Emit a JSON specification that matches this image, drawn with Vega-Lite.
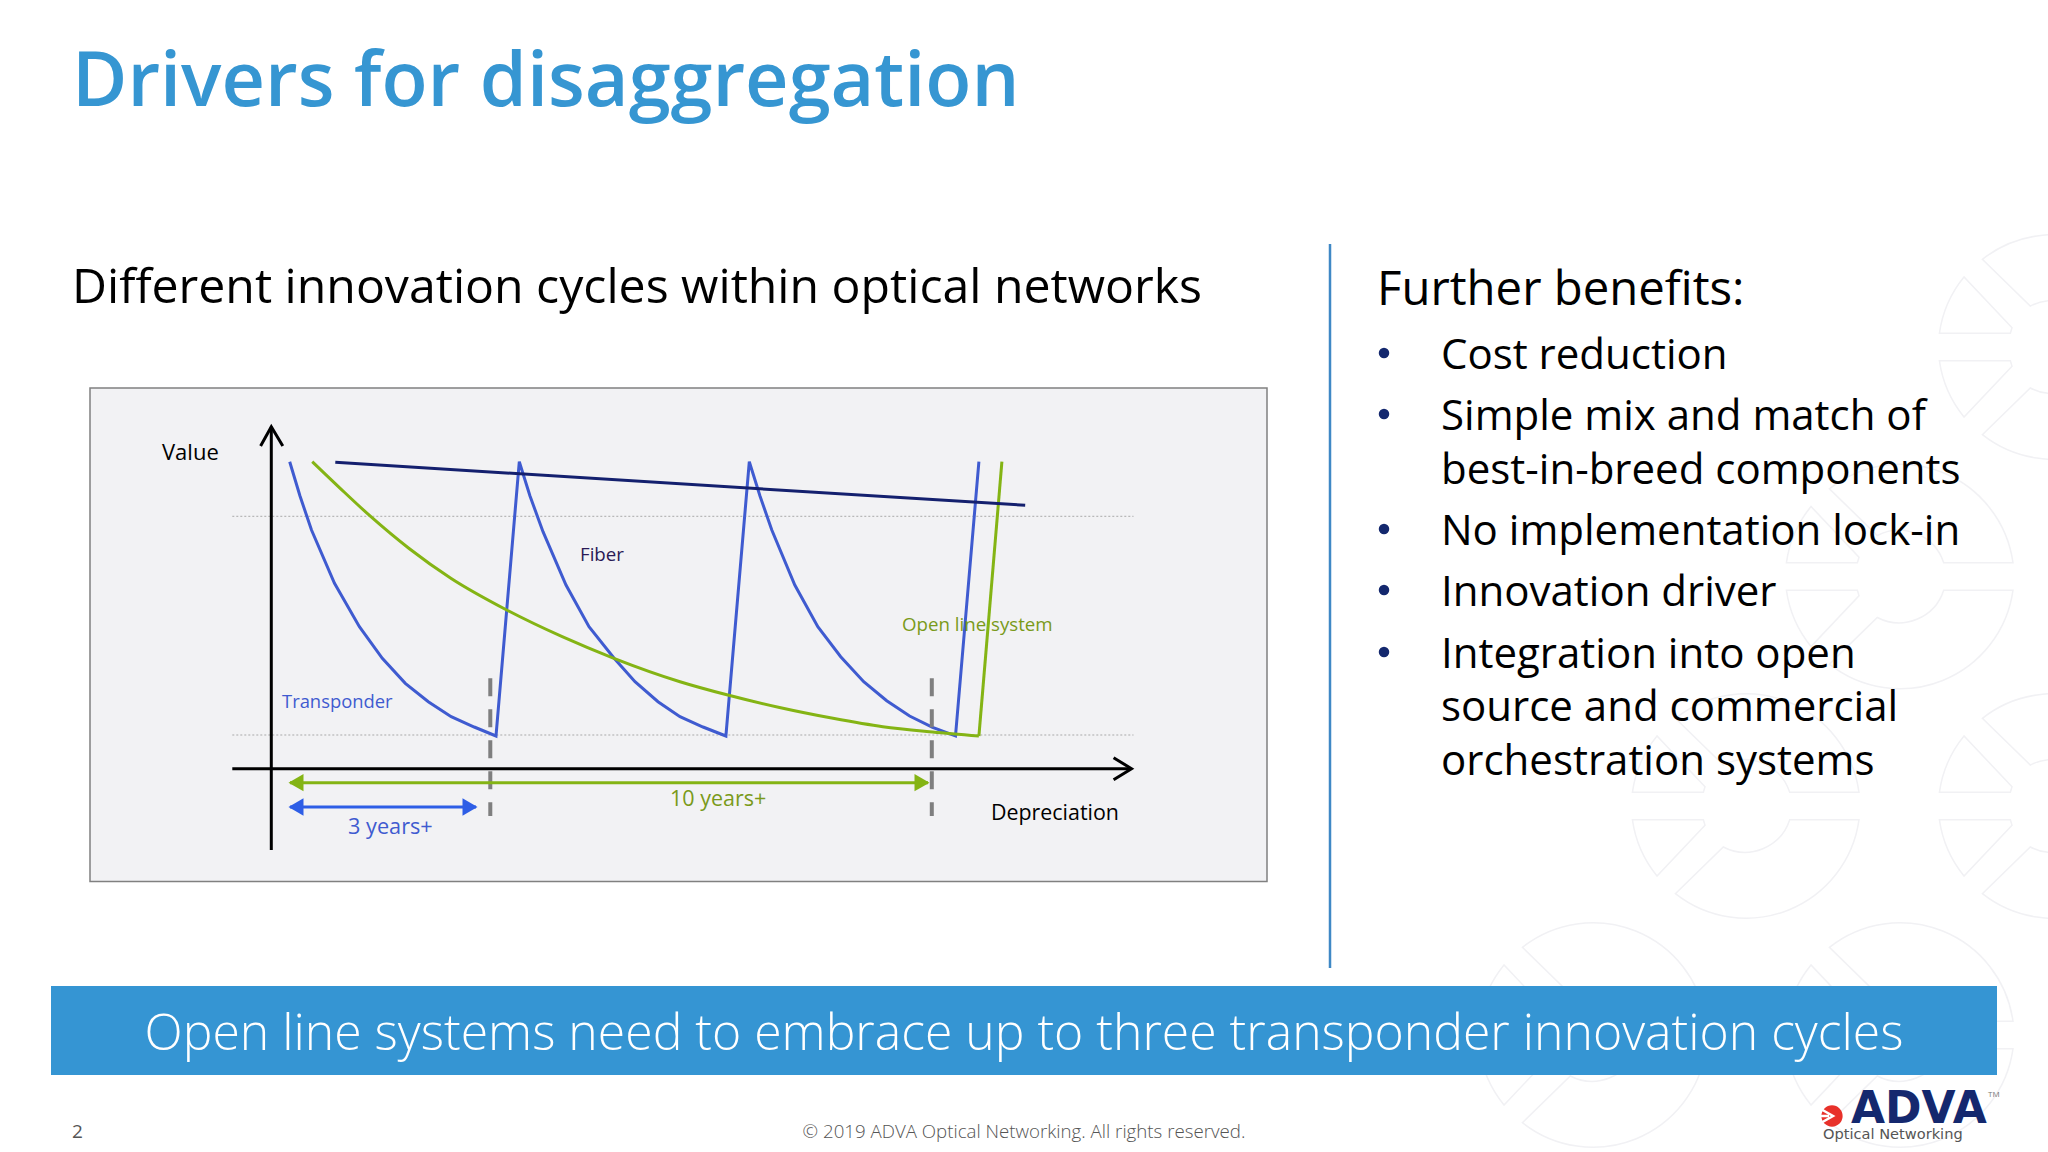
{
  "$schema": "https://vega.github.io/schema/vega-lite/v6.json",
  "autosize": "none",
  "width": 2048,
  "height": 1152,
  "padding": 0,
  "background": "#ffffff",
  "config": {"view": {"stroke": null}, "text": {"font": "Open Sans", "align": "left", "baseline": "alphabetic"}},
  "encoding": {
    "x": {"field": "x", "type": "quantitative", "axis": null, "scale": {"domain": [0, 2048], "nice": false, "zero": false}},
    "y": {"field": "y", "type": "quantitative", "axis": null, "scale": {"domain": [0, 1152], "reverse": true, "nice": false, "zero": false}}
  },
  "datasets": {
    "transponder": [
      {"i": 1, "x": 289.7, "y": 461.7},
      {"i": 2, "x": 300, "y": 496},
      {"i": 3, "x": 311.5, "y": 530},
      {"i": 4, "x": 334.5, "y": 583.3},
      {"i": 5, "x": 359.4, "y": 626.7},
      {"i": 6, "x": 382.3, "y": 658.3},
      {"i": 7, "x": 405.3, "y": 683.3},
      {"i": 8, "x": 428.3, "y": 701.7},
      {"i": 9, "x": 451.2, "y": 716.7},
      {"i": 10, "x": 474.2, "y": 727},
      {"i": 11, "x": 496, "y": 736},
      {"i": 12, "x": 519.3, "y": 461.7},
      {"i": 13, "x": 530, "y": 496},
      {"i": 14, "x": 543, "y": 531.7},
      {"i": 15, "x": 566, "y": 585},
      {"i": 16, "x": 589, "y": 626.7},
      {"i": 17, "x": 613.9, "y": 658},
      {"i": 18, "x": 635, "y": 681.7},
      {"i": 19, "x": 658, "y": 701.7},
      {"i": 20, "x": 680, "y": 716.7},
      {"i": 21, "x": 703, "y": 727},
      {"i": 22, "x": 725.9, "y": 736},
      {"i": 23, "x": 749.3, "y": 461.7},
      {"i": 24, "x": 760, "y": 496},
      {"i": 25, "x": 771.8, "y": 530},
      {"i": 26, "x": 794.8, "y": 585},
      {"i": 27, "x": 817.8, "y": 626.7},
      {"i": 28, "x": 840.7, "y": 656.7},
      {"i": 29, "x": 863.7, "y": 681.7},
      {"i": 30, "x": 886.7, "y": 700.7},
      {"i": 31, "x": 909.6, "y": 716},
      {"i": 32, "x": 932.6, "y": 727.3},
      {"i": 33, "x": 955.5, "y": 736},
      {"i": 34, "x": 978.9, "y": 461.7}
    ],
    "openLine": [
      {"x": 312.3, "y": 461.7},
      {"x": 340.2, "y": 488.3},
      {"x": 370.9, "y": 516.7},
      {"x": 409.1, "y": 548.5},
      {"x": 451.2, "y": 578.5},
      {"x": 506.7, "y": 610},
      {"x": 562.2, "y": 636.7},
      {"x": 613.9, "y": 658.3},
      {"x": 680, "y": 681.7},
      {"x": 727.8, "y": 695},
      {"x": 779.5, "y": 707.5},
      {"x": 833, "y": 718.3},
      {"x": 882.8, "y": 726.7},
      {"x": 932.6, "y": 732},
      {"x": 978.9, "y": 736}
    ]
  },
  "layer": [
    {
      "data": {"values": [
        {"x": 2053, "y": 347}, {"x": 1900, "y": 576.5}, {"x": 1746, "y": 806},
        {"x": 2053, "y": 806}, {"x": 1593, "y": 1035}, {"x": 1900, "y": 1035}
      ]},
      "mark": {
        "type": "point",
        "size": 4,
        "filled": false,
        "opacity": 1,
        "stroke": "#f1f1f4",
        "strokeWidth": 1.5,
        "shape": "M43.7,13.7L113,13.7A114,114 0 0 1 -70.6,87.7L-22.7,41A47,47 0 0 0 43.7,13.7ZM-113.6,13.7L-42.6,13.7L-41,19.3L-89,70A114,114 0 0 1 -113.6,13.7ZM43.7,-13.7L113,-13.7A114,114 0 0 0 -70.6,-87.7L-22.7,-41A47,47 0 0 1 43.7,-13.7ZM-113.6,-13.7L-42.6,-13.7L-41,-19.3L-89,-70A114,114 0 0 0 -113.6,-13.7Z"
      }
    },
    {
      "data": {"values": [{"x": 90, "x2": 1267, "y": 388, "y2": 881.6}]},
      "mark": {"type": "rect", "fill": "#f2f2f4", "stroke": "#808080", "strokeWidth": 1.5},
      "encoding": {"x2": {"field": "x2"}, "y2": {"field": "y2"}}
    },
    {
      "data": {"values": [{"x": 51, "x2": 1997, "y": 986, "y2": 1075}]},
      "mark": {"type": "rect", "fill": "#3595d3"},
      "encoding": {"x2": {"field": "x2"}, "y2": {"field": "y2"}}
    },
    {
      "data": {"values": [{"x": 1330, "y": 244}, {"x": 1330, "y": 968}]},
      "mark": {"type": "line", "stroke": "#3f88c5", "strokeWidth": 2.5}
    },
    {
      "data": {"values": [
        {"line": "high", "x": 232.3, "y": 516.3}, {"line": "high", "x": 1133.5, "y": 516.3},
        {"line": "low", "x": 232.3, "y": 735}, {"line": "low", "x": 1133.5, "y": 735}
      ]},
      "mark": {"type": "line", "stroke": "#a9a9a9", "strokeWidth": 1, "strokeDash": [2, 2]},
      "encoding": {"detail": {"field": "line"}}
    },
    {
      "data": {"values": [
        {"line": "xaxis", "x": 232.3, "y": 768.7}, {"line": "xaxis", "x": 1131, "y": 768.7},
        {"line": "xhead", "i": 1, "x": 1113.6, "y": 757.7}, {"line": "xhead", "i": 2, "x": 1131.5, "y": 768.7}, {"line": "xhead", "i": 3, "x": 1113.6, "y": 779.7},
        {"line": "yaxis", "x": 271.3, "y": 426.7}, {"line": "yaxis", "x": 271.3, "y": 850},
        {"line": "yhead", "i": 1, "x": 260.6, "y": 446}, {"line": "yhead", "i": 2, "x": 271.3, "y": 426.7}, {"line": "yhead", "i": 3, "x": 282.8, "y": 446}
      ]},
      "mark": {"type": "line", "stroke": "#000000", "strokeWidth": 3},
      "encoding": {"detail": {"field": "line"}, "order": {"field": "i"}}
    },
    {
      "data": {"name": "transponder"},
      "mark": {"type": "line", "stroke": "#3f5bd0", "strokeWidth": 3},
      "encoding": {"order": {"field": "i"}}
    },
    {
      "data": {"name": "openLine"},
      "mark": {"type": "line", "stroke": "#84b414", "strokeWidth": 3, "interpolate": "monotone"}
    },
    {
      "data": {"values": [{"x": 978.9, "y": 736}, {"x": 1001.9, "y": 461.7}]},
      "mark": {"type": "line", "stroke": "#84b414", "strokeWidth": 3}
    },
    {
      "data": {"values": [{"x": 335.3, "y": 462.3}, {"x": 1025.2, "y": 505.3}]},
      "mark": {"type": "line", "stroke": "#14206e", "strokeWidth": 3}
    },
    {
      "data": {"values": [
        {"line": "3 years", "x": 490.3, "y": 678.3}, {"line": "3 years", "x": 490.3, "y": 816},
        {"line": "10 years", "x": 931.8, "y": 678.3}, {"line": "10 years", "x": 931.8, "y": 816}
      ]},
      "mark": {"type": "line", "stroke": "#7f7f7f", "strokeWidth": 4, "strokeDash": [18, 13]},
      "encoding": {"detail": {"field": "line"}}
    },
    {
      "data": {"values": [{"x": 290, "y": 782.7}, {"x": 928, "y": 782.7}]},
      "mark": {"type": "line", "stroke": "#84b414", "strokeWidth": 3}
    },
    {
      "data": {"values": [{"x": 290, "y": 807}, {"x": 476, "y": 807}]},
      "mark": {"type": "line", "stroke": "#2e5ee6", "strokeWidth": 3}
    },
    {
      "data": {"values": [
        {"span": "10 years+", "dir": "left", "x": 296, "y": 782.7},
        {"span": "10 years+", "dir": "right", "x": 922, "y": 782.7},
        {"span": "3 years+", "dir": "left", "x": 296, "y": 807},
        {"span": "3 years+", "dir": "right", "x": 470, "y": 807}
      ]},
      "mark": {"type": "point", "filled": true, "opacity": 1, "size": 300},
      "encoding": {
        "shape": {"field": "dir", "legend": null, "scale": {"domain": ["left", "right"], "range": ["triangle-left", "triangle-right"]}},
        "fill": {"field": "span", "legend": null, "scale": {"domain": ["10 years+", "3 years+"], "range": ["#84b414", "#2e5ee6"]}}
      }
    },
    {
      "data": {"values": [{"label": "Value", "x": 162, "y": 460}]},
      "mark": {"type": "text", "fontSize": 22, "fill": "#000000"},
      "encoding": {"text": {"field": "label"}}
    },
    {
      "data": {"values": [{"label": "Depreciation", "x": 991, "y": 819.5}]},
      "mark": {"type": "text", "fontSize": 21.4, "fill": "#000000"},
      "encoding": {"text": {"field": "label"}}
    },
    {
      "data": {"values": [{"label": "Transponder", "x": 282, "y": 708}]},
      "mark": {"type": "text", "fontSize": 18.4, "fill": "#3f5bd0"},
      "encoding": {"text": {"field": "label"}}
    },
    {
      "data": {"values": [{"label": "3 years+", "x": 348, "y": 833.5}]},
      "mark": {"type": "text", "fontSize": 21.7, "fill": "#3f5bd0"},
      "encoding": {"text": {"field": "label"}}
    },
    {
      "data": {"values": [{"label": "Fiber", "x": 580, "y": 560.5}]},
      "mark": {"type": "text", "fontSize": 18.7, "fill": "#2a1a55"},
      "encoding": {"text": {"field": "label"}}
    },
    {
      "data": {"values": [{"label": "Open line system", "x": 902, "y": 631}]},
      "mark": {"type": "text", "fontSize": 18.7, "fill": "#7a9a1a"},
      "encoding": {"text": {"field": "label"}}
    },
    {
      "data": {"values": [{"label": "10 years+", "x": 670, "y": 806}]},
      "mark": {"type": "text", "fontSize": 21.5, "fill": "#7a9a1a"},
      "encoding": {"text": {"field": "label"}}
    },
    {
      "data": {"values": [{"label": "Drivers for disaggregation", "x": 72, "y": 106}]},
      "mark": {"type": "text", "fontSize": 75.6, "fontWeight": 600, "fill": "#3696d2"},
      "encoding": {"text": {"field": "label"}}
    },
    {
      "data": {"values": [{"label": "Different innovation cycles within optical networks", "x": 72, "y": 303}]},
      "mark": {"type": "text", "fontSize": 48.2, "fill": "#000000"},
      "encoding": {"text": {"field": "label"}}
    },
    {
      "data": {"values": [{"label": "Further benefits:", "x": 1377, "y": 305}]},
      "mark": {"type": "text", "fontSize": 47.3, "fill": "#000000"},
      "encoding": {"text": {"field": "label"}}
    },
    {
      "data": {"values": [
        {"x": 1384, "y": 353}, {"x": 1384, "y": 414}, {"x": 1384, "y": 529}, {"x": 1384, "y": 590}, {"x": 1384, "y": 652}
      ]},
      "mark": {"type": "circle", "size": 110, "fill": "#14286e", "opacity": 1}
    },
    {
      "data": {"values": [
        {"label": "Cost reduction", "x": 1441, "y": 369},
        {"label": "Simple mix and match of", "x": 1441, "y": 430},
        {"label": "best-in-breed components", "x": 1441, "y": 484},
        {"label": "No implementation lock-in", "x": 1441, "y": 545},
        {"label": "Innovation driver", "x": 1441, "y": 606},
        {"label": "Integration into open", "x": 1441, "y": 668},
        {"label": "source and commercial", "x": 1441, "y": 721},
        {"label": "orchestration systems", "x": 1441, "y": 775}
      ]},
      "mark": {"type": "text", "fontSize": 42, "fill": "#000000"},
      "encoding": {"text": {"field": "label"}}
    },
    {
      "data": {"values": [{"label": "Open line systems need to embrace up to three transponder innovation cycles", "x": 1024, "y": 1050}]},
      "mark": {"type": "text", "fontSize": 49.9, "fontWeight": 300, "align": "center", "fill": "#ffffff"},
      "encoding": {"text": {"field": "label"}}
    },
    {
      "data": {"values": [{"label": "2", "x": 72, "y": 1138}]},
      "mark": {"type": "text", "fontSize": 19, "fill": "#555555"},
      "encoding": {"text": {"field": "label"}}
    },
    {
      "data": {"values": [{"label": "© 2019 ADVA Optical Networking. All rights reserved.", "x": 1024, "y": 1138}]},
      "mark": {"type": "text", "fontSize": 18.7, "fontWeight": 300, "align": "center", "fill": "#555555"},
      "encoding": {"text": {"field": "label"}}
    },
    {
      "data": {"values": [{"x": 1832, "y": 1116}]},
      "mark": {"type": "circle", "size": 452, "fill": "#e8312a", "opacity": 1}
    },
    {
      "data": {"values": [{"x": 1832, "y": 1116}]},
      "mark": {"type": "point", "shape": "M-13,-8L1,0L-13,8M-13,0L-3,0", "size": 4, "filled": false, "stroke": "#ffffff", "strokeWidth": 2.5, "opacity": 1}
    },
    {
      "data": {"values": [{"label": "ADVA", "x": 1851, "y": 1123}]},
      "mark": {"type": "text", "font": "DejaVu Sans", "fontSize": 44, "fontWeight": "bold", "fill": "#14286e"},
      "encoding": {"text": {"field": "label"}}
    },
    {
      "data": {"values": [{"label": "TM", "x": 1988, "y": 1097}]},
      "mark": {"type": "text", "fontSize": 8, "fill": "#777777"},
      "encoding": {"text": {"field": "label"}}
    },
    {
      "data": {"values": [{"label": "Optical Networking", "x": 1823, "y": 1139}]},
      "mark": {"type": "text", "font": "DejaVu Sans", "fontSize": 14.6, "fill": "#555555"},
      "encoding": {"text": {"field": "label"}}
    }
  ]
}
